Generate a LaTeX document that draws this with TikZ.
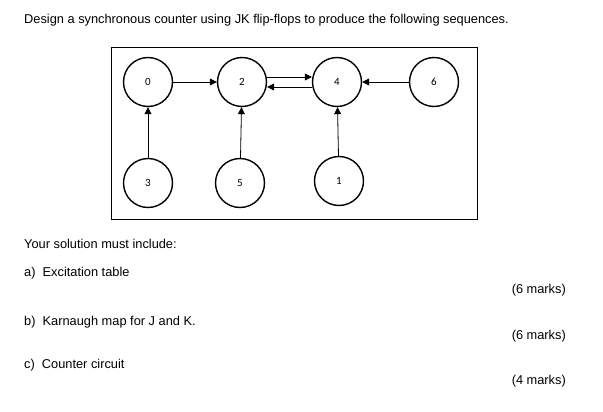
\documentclass[tikz,border=0pt]{standalone}
\usepackage{fontspec}
\setmainfont{Liberation Sans}
\newfontfamily\calib{Carlito}
\usetikzlibrary{arrows.meta}
\begin{document}
\begin{tikzpicture}[x=1pt,y=-1pt,
  st/.style={draw,circle,line width=1.4pt,minimum size=49pt,inner sep=0pt,font=\calib\fontsize{11}{12}\selectfont},
  ar/.style={-{Triangle[length=7pt,width=7pt]},line width=0.8pt},
  txt/.style={anchor=west,inner sep=0pt,font=\fontsize{12.8}{15}\selectfont}]
\useasboundingbox (0,0) rectangle (603,412);
\draw[line width=0.8pt] (111,47) rectangle (477,219);
\node[st] (s0) at (148,82) {0};
\node[st] (s2) at (242,82) {2};
\node[st] (s4) at (337,82) {4};
\node[st] (s6) at (434,82) {6};
\node[st] (s3) at (148,183) {3};
\node[st] (s5) at (240,183) {5};
\node[st] (s1) at (339,181) {1};
\draw[ar] (s0) -- (s2);
\draw[ar] ([yshift=5pt]s2.east) -- ([yshift=5pt]s4.west);
\draw[ar] ([yshift=-5pt]s4.west) -- ([yshift=-5pt]s2.east);
\draw[ar] (s6) -- (s4);
\draw[ar] (s3) -- (s0);
\draw[ar] (s5) -- (s2);
\draw[ar] (s1) -- (s4);
\node[txt] (t0) at (24,20) {Design a synchronous counter using JK flip-flops to produce the following sequences.};
\node[txt] (t1) at (24,244) {Your solution must include:};
\node[txt] (ta) at (24,273) {a)\ \ Excitation table};
\node[txt] (tb) at (24,322) {b)\ \ Karnaugh map for J and K.};
\node[txt] (tc) at (24,365) {c)\ \ Counter circuit};
\node[txt,anchor=east] (ma) at (566,290) {(6 marks)};
\node[txt,anchor=east] (mb) at (566,336) {(6 marks)};
\node[txt,anchor=east] (mc) at (566,381) {(4 marks)};
\end{tikzpicture}
\end{document}
